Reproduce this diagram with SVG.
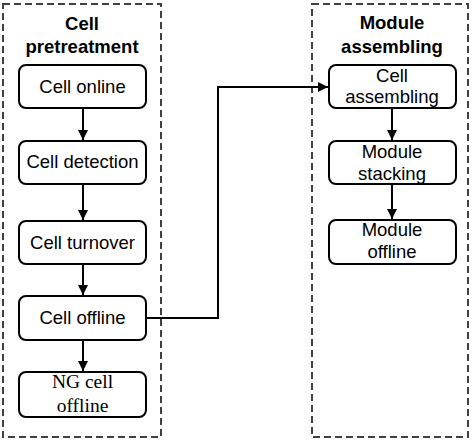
<svg xmlns="http://www.w3.org/2000/svg" width="474" height="441" viewBox="0 0 474 441">
<defs>
<style>
.grp{fill:none;stroke:#404040;stroke-width:2;stroke-dasharray:7 4}
.box{fill:#fff;stroke:#000;stroke-width:2}
.t{font-family:"Liberation Sans",Arial,sans-serif;font-size:18.5px;text-anchor:middle;fill:#000}
.h{font-family:"Liberation Sans",Arial,sans-serif;font-size:18.5px;font-weight:bold;text-anchor:middle;fill:#000}
.s{font-family:"Liberation Serif","Times New Roman",serif;font-size:19.5px;text-anchor:middle;fill:#000}
.c{fill:none;stroke:#000;stroke-width:2}
</style>
<marker id="ar" viewBox="0 0 10 10" refX="10" refY="5" markerWidth="5" markerHeight="5" orient="auto" markerUnits="strokeWidth">
<path d="M0,0 L10,5 L0,10 z" fill="#000"/>
</marker>
</defs>
<rect x="0" y="0" width="474" height="441" fill="#fff"/>
<g id="group-pretreatment">
<rect class="grp" x="3" y="4" width="158" height="433"/>
<text class="h" x="82" y="30">Cell</text>
<text class="h" x="82" y="53">pretreatment</text>
</g>
<g id="group-module">
<rect class="grp" x="312" y="4" width="156" height="433"/>
<text class="h" x="392" y="29">Module</text>
<text class="h" x="392" y="53">assembling</text>
</g>
<g id="connectors">
<line class="c" x1="83" y1="108" x2="83" y2="140" marker-end="url(#ar)"/>
<line class="c" x1="83" y1="184" x2="83" y2="220" marker-end="url(#ar)"/>
<line class="c" x1="83" y1="264" x2="83" y2="295" marker-end="url(#ar)"/>
<line class="c" x1="83" y1="340" x2="83" y2="371" marker-end="url(#ar)"/>
<polyline class="c" points="146,318 218,318 218,87 328,87" marker-end="url(#ar)"/>
<line class="c" x1="392" y1="108" x2="392" y2="140" marker-end="url(#ar)"/>
<line class="c" x1="392" y1="184" x2="392" y2="219" marker-end="url(#ar)"/>
</g>
<g id="cell-online">
<rect class="box" x="19" y="65" width="127" height="43" rx="7"/>
<text class="t" x="82.5" y="93">Cell online</text>
</g>
<g id="cell-detection">
<rect class="box" x="19" y="141" width="127" height="43" rx="7"/>
<text class="t" x="82.5" y="168">Cell detection</text>
</g>
<g id="cell-turnover">
<rect class="box" x="19" y="221" width="127" height="43" rx="7"/>
<text class="t" x="82.5" y="249">Cell turnover</text>
</g>
<g id="cell-offline">
<rect class="box" x="19" y="296" width="127" height="44" rx="7"/>
<text class="t" x="82.5" y="324">Cell offline</text>
</g>
<g id="ng-cell-offline">
<rect class="box" x="19" y="372" width="127" height="45" rx="7"/>
<text class="s" x="82.5" y="388">NG cell</text>
<text class="s" x="82.5" y="412">offline</text>
</g>
<g id="cell-assembling">
<rect class="box" x="329" y="65" width="127" height="43" rx="7"/>
<text class="t" x="392" y="82">Cell</text>
<text class="t" x="392" y="103">assembling</text>
</g>
<g id="module-stacking">
<rect class="box" x="329" y="141" width="127" height="43" rx="7"/>
<text class="t" x="392" y="158">Module</text>
<text class="t" x="392" y="180">stacking</text>
</g>
<g id="module-offline">
<rect class="box" x="329" y="220" width="127" height="44" rx="7"/>
<text class="t" x="392" y="236">Module</text>
<text class="t" x="392" y="258">offline</text>
</g>
</svg>
